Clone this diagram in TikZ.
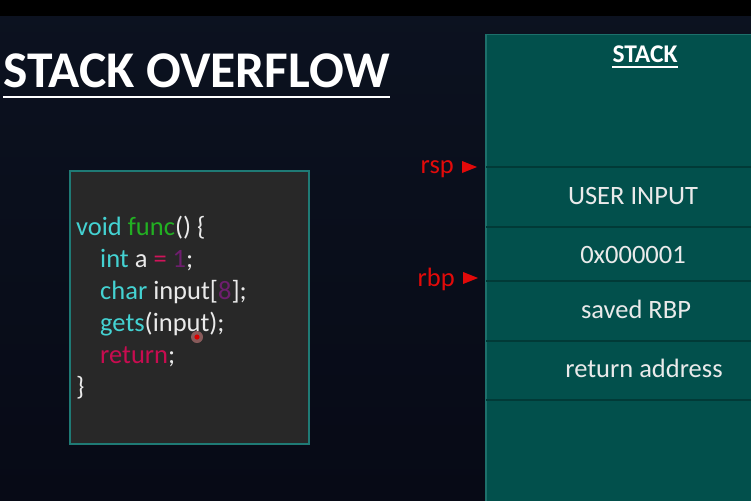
\documentclass[tikz,border=0pt]{standalone}
\usepackage{fontspec}
\setmainfont{Carlito}
\definecolor{bgtop}{HTML}{0C1220}
\definecolor{bgbot}{HTML}{070A16}
\definecolor{stackteal}{HTML}{02504C}
\definecolor{stackedge}{HTML}{1D706B}
\definecolor{divider}{HTML}{013A37}
\definecolor{codebg}{HTML}{282828}
\definecolor{codeedge}{HTML}{1F7A75}
\definecolor{kwcyan}{HTML}{44D2D2}
\definecolor{fngreen}{HTML}{22B022}
\definecolor{opred}{HTML}{D0145A}
\definecolor{numpurple}{HTML}{6E1E6E}
\definecolor{retred}{HTML}{C80C50}
\definecolor{plain}{HTML}{EAEAEA}
\definecolor{ptrred}{HTML}{E20A0A}
\tikzset{
  codeline/.style={anchor=base west, inner sep=0, text=plain, font=\fontsize{26.5}{26.5}\selectfont},
  cell/.style={anchor=base, inner sep=0, text=plain, font=\fontsize{26.5}{26.5}\selectfont},
  ptrlabel/.style={anchor=base east, inner sep=0, text=ptrred, font=\fontsize{26.5}{26.5}\selectfont},
  divline/.style={draw=divider, line width=1.5pt}
}
\begin{document}
\begin{tikzpicture}[x=1pt,y=-1pt]
\useasboundingbox (0,0) rectangle (751,500);
\shade[top color=bgtop, bottom color=bgbot] (0,0) rectangle (751,500);
\fill[black] (0,0) rectangle (751,16);
% title
\node[anchor=base west, inner sep=0, text=white, font=\bfseries\fontsize{51.5}{51.5}\selectfont] (title) at (3,88) {STACK OVERFLOW};
\draw[white, line width=2.5pt] ([yshift=-9pt]title.base west) -- ([yshift=-9pt]title.base east);
% code box
\node[draw=codeedge, fill=codebg, line width=2pt, anchor=north west, inner sep=0,
      minimum width=239pt, minimum height=273pt] (code) at (69,170) {};
\node[codeline] (l1) at (76,235) {\textcolor{kwcyan}{void} \textcolor{fngreen}{func}() \{};
\node[codeline] (l2) at (100,267) {\textcolor{kwcyan}{int} a \textcolor{opred}{=} \textcolor{numpurple}{1};};
\node[codeline] (l3) at (100,299) {\textcolor{kwcyan}{char} input[\textcolor{numpurple}{8}];};
\node[codeline] (l4) at (100,331) {\textcolor{kwcyan}{gets}(input);};
\node[codeline] (l5) at (100,363) {\textcolor{retred}{return};};
\node[codeline] (l6) at (76,395) {\}};
% pointer dot
\fill[red!40, opacity=0.45] (197,337) circle (6);
\fill[red!85!black] (197,337) circle (2.6);
% stack
\node[fill=stackteal, draw=stackedge, line width=1.5pt, anchor=north west, inner sep=0,
      minimum width=280pt, minimum height=480pt] (stack) at (485,34) {};
\node[anchor=base, inner sep=0, text=white, font=\bfseries\fontsize{25.5}{25.5}\selectfont] (hdr) at (645,63) {STACK};
\draw[white, line width=2pt] ([yshift=-4.5pt]hdr.base west) -- ([yshift=-4.5pt]hdr.base east);
\coordinate (d1l) at (486,167); \coordinate (d1r) at (751,167);
\coordinate (d2l) at (486,227); \coordinate (d2r) at (751,227);
\coordinate (d3l) at (486,281); \coordinate (d3r) at (751,281);
\coordinate (d4l) at (486,341); \coordinate (d4r) at (751,341);
\coordinate (d5l) at (486,400); \coordinate (d5r) at (751,400);
\draw[divline] (d1l) -- (d1r);
\draw[divline] (d2l) -- (d2r);
\draw[divline] (d3l) -- (d3r);
\draw[divline] (d4l) -- (d4r);
\draw[divline] (d5l) -- (d5r);
\node[cell] (c1) at (633,204) {USER INPUT};
\node[cell] (c2) at (633,263.5) {0x000001};
\node[cell] (c3) at (636,318) {saved RBP};
\node[cell] (c4) at (644,377) {return address};
% pointers
\node[ptrlabel] (rsp) at (454,173) {rsp};
\fill[ptrred] (462,161) -- (477,167) -- (462,173) -- cycle;
\node[ptrlabel] (rbp) at (455,286) {rbp};
\fill[ptrred] (463,272) -- (478,278) -- (463,284) -- cycle;
\end{tikzpicture}
\end{document}
